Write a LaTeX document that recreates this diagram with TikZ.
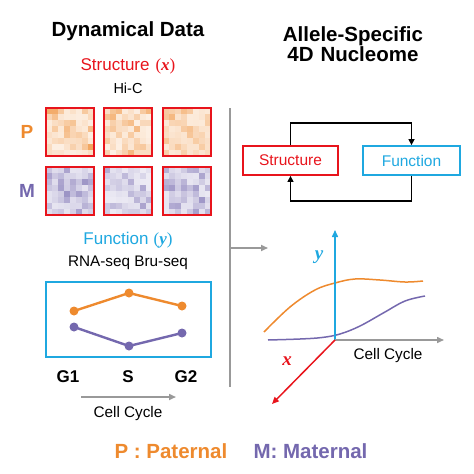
\documentclass[tikz,border=0pt]{standalone}
\usepackage{fontspec}
\setmainfont{Liberation Sans}
\newfontfamily\serifm{Liberation Serif}
\usetikzlibrary{arrows.meta}
\definecolor{cOr}{HTML}{EE8A2E}
\definecolor{cPu}{HTML}{7468AE}
\definecolor{cBl}{HTML}{1FA8E0}
\definecolor{cRd}{HTML}{E8141C}
\definecolor{cGr}{HTML}{999999}
\newcommand{\fs}[1]{\fontsize{#1}{#1}\selectfont}
\tikzset{
  title/.style={font=\fs{20.5}\bfseries, align=center},
  sub/.style={font=\fs{17}},
  small/.style={font=\fs{15.3}},
  hmbox/.style={draw=cRd, line width=1.8pt, minimum size=48pt, inner sep=0pt},
  pmlab/.style={font=\fs{19}\bfseries},
  glab/.style={font=\fs{17}\bfseries},
  lbox/.style={line width=1.8pt, minimum width=96pt, minimum height=29pt, inner sep=0pt, font=\fs{15.5}},
  loop/.style={line width=1.4pt, -{Triangle[length=6pt,width=6pt]}},
  gline/.style={draw=cGr, line width=1.6pt},
  garr/.style={gline, -{Triangle[length=7pt,width=6pt]}},
  dot/.style={circle, inner sep=0pt, minimum size=9pt},
  axlab/.style={font=\fs{19}\serifm\itshape\bfseries},
}
\begin{document}
\begin{tikzpicture}[x=1pt,y=-1pt]
\useasboundingbox (0,0) rectangle (474,474);

% titles
\node[title] (tDyn) at (128,31) {Dynamical Data};
\node[title, text width=200pt] (tAll) at (353,44) {Allele-Specific\\[-1pt]4D Nucleome};

% structure label
\node[sub, text=cRd] (tStr) at (128,66) {Structure\hspace{6pt}{\serifm(\textit{\textbf{x}})}};
\node[small, font=\fs{14.5}] (tHiC) at (128,88) {Hi-C};

% heatmaps
\foreach \bx/\by/\col/\sd/\amp/\bs/\nm in {46/108/cOr/11/70/14/hP1, 104/108/cOr/23/60/13/hP2, 163/108/cOr/37/45/17/hP3,
                                       46/167/cPu/41/60/18/hM1, 104/167/cPu/53/48/13/hM2, 163/167/cPu/67/55/15/hM3}{
  \pgfmathsetseed{\sd}
  \foreach \i in {0,...,7}{
    \foreach \j in {0,...,7}{
      \pgfmathtruncatemacro\v{\bs+\amp*rnd*rnd+14*exp(-abs(\i-\j))}
      \fill[fill=\col!\v!white] (\bx+\i*6,\by+\j*6) rectangle ++(6,6);
    }
  }
  \node[hmbox] (\nm) at (\bx+24,\by+24) {};
}
\node[pmlab, text=cOr] (lP) at (27,132) {P};
\node[pmlab, text=cPu] (lM) at (27,191) {M};

% function label
\node[sub, text=cBl] (tFun) at (128,240) {Function\hspace{5pt}{\serifm(\textit{\textbf{y}})}};
\node[small] (tRNA) at (128,263) {RNA-seq Bru-seq};

% plot box
\node[draw=cBl, line width=1.8pt, minimum width=165pt, minimum height=75pt, inner sep=0pt] (pbox) at (128.5,319.5) {};
\node[dot, fill=cOr] (o1) at (74,311) {};
\node[dot, fill=cOr] (o2) at (129,293) {};
\node[dot, fill=cOr] (o3) at (182,306) {};
\node[dot, fill=cPu] (m1) at (74,327) {};
\node[dot, fill=cPu] (m2) at (129,346) {};
\node[dot, fill=cPu] (m3) at (182,333) {};
\draw[cOr, line width=2.4pt] (o1.center) -- (o2.center) -- (o3.center);
\draw[cPu, line width=2.4pt] (m1.center) -- (m2.center) -- (m3.center);

\node[glab] (g1) at (68,377) {G1};
\node[glab] (gS) at (128,377) {S};
\node[glab] (g2) at (186,377) {G2};
\coordinate (ca1) at (81,397);
\coordinate (ca2) at (176,397);
\draw[garr] (ca1) -- (ca2);
\node[small] (tCC1) at (128,414) {Cell Cycle};

% divider
\coordinate (dv1) at (230,108);
\coordinate (dv2) at (230,387);
\coordinate (dvm) at (230,248);
\coordinate (dva) at (268,248);
\draw[gline] (dv1) -- (dv2);
\draw[garr] (dvm) -- (dva);

% loop
\node[lbox, draw=cRd, text=cRd, minimum width=95pt] (sbox) at (290.5,160.5) {Structure};
\node[lbox, draw=cBl, text=cBl, minimum width=97pt] (fbox) at (411.5,160.5) {Function};
\draw[loop] (sbox.north) -- ++(0,-22) -| (fbox.north);
\draw[loop] (fbox.south) -- ++(0,25) -| (sbox.south);

% axes
\coordinate (O) at (335,340);
\coordinate (ay) at (335,230);
\coordinate (ax) at (444,340);
\coordinate (az) at (272,404);
\draw[cOr, line width=1.5pt] plot[smooth, tension=0.6] coordinates {(264,332) (290,307) (315,290) (335,283) (355,279) (380,280) (405,282) (423,281)};
\draw[cPu, line width=1.5pt] plot[smooth, tension=0.6] coordinates {(268,340) (300,339) (322,337.5) (340,334) (360,326) (385,312) (405,301) (425,296)};
\draw[cBl, line width=1.5pt, -{Triangle[length=7pt,width=6pt]}] (O) -- (ay);
\draw[cGr, line width=1.5pt, -{Triangle[length=7pt,width=6pt]}] (O) -- (ax);
\draw[cRd, line width=1.5pt, -{Triangle[length=7pt,width=6pt]}] (O) -- (az);
\node[axlab, text=cBl] (ly) at (319,257) {y};
\node[axlab, text=cRd] (lx) at (287,361) {x};
\node[small] (tCC2) at (388,356) {Cell Cycle};

% legend
\node[title, text=cOr, anchor=west] (legP) at (111,451) {P : Paternal};
\node[title, text=cPu, anchor=west] (legM) at (250,451) {M: Maternal};
\end{tikzpicture}
\end{document}
